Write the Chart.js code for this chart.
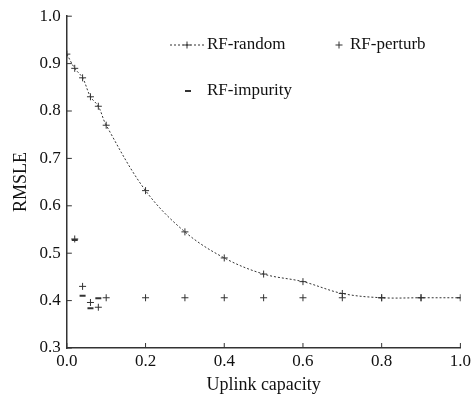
<!DOCTYPE html>
<html>
<head>
<script src="https://cdn.jsdelivr.net/npm/chart.js@4"></script>
<style>
  body { margin: 0; background: #fff; }
  #wrap { width: 474px; height: 401px; }
</style>
</head>
<body>
<div id="wrap"><canvas id="chart"></canvas></div>
<script>
// Data
const randomX = [0, 0.02, 0.04, 0.06, 0.08, 0.1, 0.2, 0.3, 0.4, 0.5, 0.6, 0.7, 0.8, 0.9, 1.0];
const randomY = [0.92, 0.89, 0.87, 0.83, 0.81, 0.77, 0.632, 0.545, 0.49, 0.456, 0.44, 0.415, 0.406, 0.406, 0.406];
const perturbX = [0.02, 0.04, 0.06, 0.08, 0.1, 0.2, 0.3, 0.4, 0.5, 0.6, 0.7, 0.8, 0.9, 1.0];
const perturbY = [0.53, 0.43, 0.396, 0.386, 0.406, 0.406, 0.406, 0.406, 0.406, 0.406, 0.406, 0.406, 0.406, 0.406];
const impurityX = [0.02, 0.04, 0.06, 0.08];
const impurityY = [0.528, 0.41, 0.384, 0.405];
const xTicks = [0, 0.2, 0.4, 0.6, 0.8, 1.0];
const yTicks = [0.3, 0.4, 0.5, 0.6, 0.7, 0.8, 0.9, 1.0];

const pts = (xs, ys) => xs.map((x, i) => ({ x: x, y: ys[i] }));
const FONT = "'Liberation Serif', 'DejaVu Serif', serif";
const INK = "#333";

// Legend drawn inside the plot, plus inward tick marks
const decor = {
  id: "decor",
  afterDraw(chart) {
    const c = chart.ctx, xs = chart.scales.x, ys = chart.scales.y;
    c.save();
    c.strokeStyle = INK;
    c.lineWidth = 1;
    c.beginPath();
    xTicks.forEach(t => { const px = xs.getPixelForValue(t); c.moveTo(px, ys.bottom); c.lineTo(px, ys.bottom - 5); });
    yTicks.forEach(t => { const py = ys.getPixelForValue(t); c.moveTo(xs.left, py); c.lineTo(xs.left + 5, py); });
    c.stroke();

    c.font = "17px " + FONT;
    c.fillStyle = "#111";
    c.textBaseline = "middle";
    function cross(x, y) { c.beginPath(); c.moveTo(x - 3.5, y); c.lineTo(x + 3.5, y); c.moveTo(x, y - 3.5); c.lineTo(x, y + 3.5); c.stroke(); }
    // RF-random
    let y = 45;
    c.setLineDash([2, 2]);
    c.beginPath(); c.moveTo(170, y); c.lineTo(205, y); c.stroke();
    c.setLineDash([]);
    cross(187, y);
    c.fillText("RF-random", 207, y);
    // RF-perturb
    cross(339, y);
    c.fillText("RF-perturb", 350, y);
    // RF-impurity
    y = 91;
    c.lineWidth = 2;
    c.beginPath(); c.moveTo(185, y); c.lineTo(191, y); c.stroke();
    c.fillText("RF-impurity", 207, y);
    c.restore();
  }
};

new Chart(document.getElementById("chart"), {
  type: "scatter",
  data: {
    datasets: [
      {
        label: "RF-random",
        data: pts(randomX, randomY),
        showLine: true,
        borderColor: INK,
        borderWidth: 1,
        borderDash: [2, 2],
        pointStyle: "cross",
        pointRadius: 3.5,
        pointBorderColor: INK,
        pointBorderWidth: 1,
        tension: 0.35
      },
      {
        label: "RF-perturb",
        data: pts(perturbX, perturbY),
        pointStyle: "cross",
        pointRadius: 3.5,
        borderColor: INK,
        pointBorderColor: INK,
        pointBorderWidth: 1
      },
      {
        label: "RF-impurity",
        data: pts(impurityX, impurityY),
        pointStyle: "line",
        pointRadius: 3,
        borderColor: INK,
        pointBorderColor: INK,
        pointBorderWidth: 2
      }
    ]
  },
  options: {
    responsive: true,
    maintainAspectRatio: false,
    animation: false,
    layout: { padding: { top: 9, right: 9, bottom: 1, left: 6 } },
    plugins: { legend: { display: false }, tooltip: { enabled: false } },
    scales: {
      x: {
        type: "linear", min: 0, max: 1,
        afterBuildTicks: s => { s.ticks = xTicks.map(v => ({ value: v })); },
        grid: { drawOnChartArea: false, drawTicks: false },
        border: { color: INK, width: 1.5 },
        ticks: { color: "#111", font: { family: FONT, size: 17 }, padding: 3, callback: v => v.toFixed(1) },
        title: { display: true, text: "Uplink capacity", color: "#111", font: { family: FONT, size: 18 }, padding: { top: 0 } }
      },
      y: {
        min: 0.3, max: 1.0,
        afterBuildTicks: s => { s.ticks = yTicks.map(v => ({ value: v })); },
        grid: { drawOnChartArea: false, drawTicks: false },
        border: { color: INK, width: 1.5 },
        ticks: { color: "#111", font: { family: FONT, size: 17 }, padding: 6, callback: v => v.toFixed(1) },
        title: { display: true, text: "RMSLE", color: "#111", font: { family: FONT, size: 18 }, padding: { bottom: 2 } }
      }
    }
  },
  plugins: [decor]
});
</script>
</body>
</html>
